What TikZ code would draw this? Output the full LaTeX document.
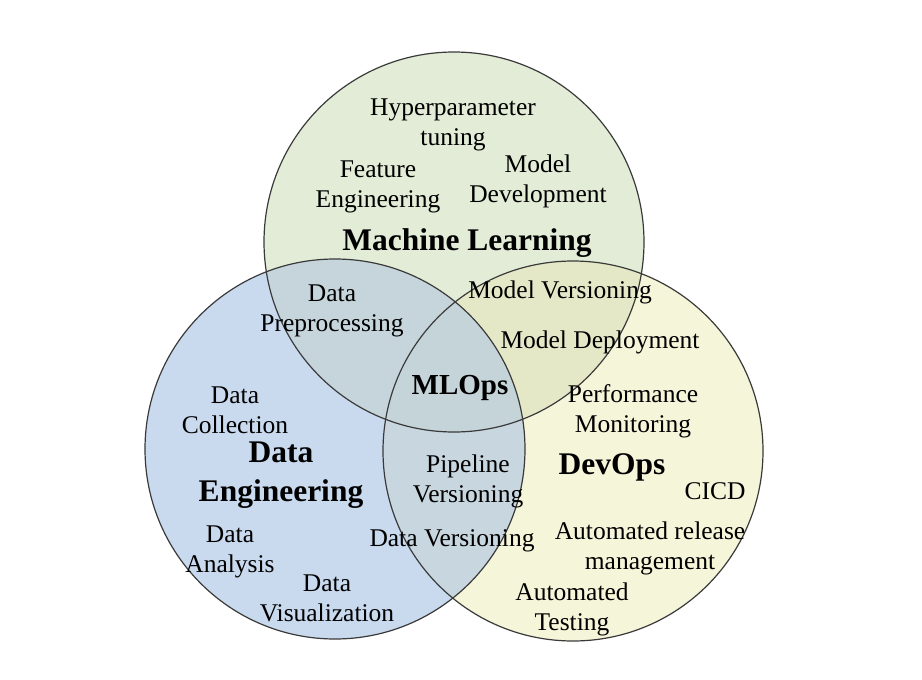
\documentclass[tikz,border=0pt]{standalone}
\usepackage{fontspec}
\setmainfont{Liberation Serif}
\definecolor{mlc}{HTML}{E2ECD6}
\definecolor{dec}{HTML}{C9D9EE}
\definecolor{doc}{HTML}{F5F5DA}
\definecolor{mldec}{HTML}{C6D5DB}
\definecolor{mldoc}{HTML}{E4E8C6}
\definecolor{dedoc}{HTML}{C7D6DF}
\definecolor{allc}{HTML}{C4D4D9}
\definecolor{edge}{HTML}{3A3A3A}
\begin{document}
\begin{tikzpicture}[x=1pt,y=-1pt,
  lbl/.style={inner sep=0pt,align=center,font=\fontsize{25.5}{30}\selectfont},
  big/.style={inner sep=0pt,align=center,font=\fontsize{31.5}{39}\selectfont\bfseries},
  ring/.style={draw=edge,line width=1.2pt}]
\useasboundingbox (0,0) rectangle (922,680);
\fill[white] (0,0) rectangle (922,680);
\coordinate (cml) at (454,242);
\coordinate (cde) at (335,449);
\coordinate (cdo) at (573,451);
\def\R{190}
\fill[mlc] (cml) circle (\R);
\fill[dec] (cde) circle (\R);
\fill[doc] (cdo) circle (\R);
\begin{scope}
  \clip (cml) circle (\R);
  \fill[mldec] (cde) circle (\R);
  \fill[mldoc] (cdo) circle (\R);
\end{scope}
\begin{scope}
  \clip (cde) circle (\R);
  \fill[dedoc] (cdo) circle (\R);
  \clip (cdo) circle (\R);
  \fill[allc] (cml) circle (\R);
\end{scope}
\draw[ring] (cml) circle (\R);
\draw[ring] (cde) circle (\R);
\draw[ring] (cdo) circle (\R);
% Machine Learning
\node[lbl] (hyp) at (453,125) {Hyperparameter\\tuning};
\node[lbl] (fe) at (378,187) {Feature\\Engineering};
\node[lbl] (md) at (538,181) {Model\\Development};
\node[big] (ml) at (467,243) {Machine Learning};
% Data Engineering
\node[lbl] (dp) at (332,311) {Data\\Preprocessing};
\node[big,font=\fontsize{29}{36}\selectfont\bfseries] (mlops) at (460,388) {MLOps};
\node[lbl] (dc) at (235,410) {Data\\Collection};
\node[big] (de) at (281,475) {Data\\Engineering};
\node[lbl] (pv) at (468,481) {Pipeline\\Versioning};
\node[lbl] (dv) at (452,541) {Data Versioning};
\node[lbl] (da) at (230,552) {Data\\Analysis};
\node[lbl] (dvis) at (327,598) {Data\\Visualization};
% DevOps
\node[lbl] (mv) at (560,292) {Model Versioning};
\node[lbl] (mdep) at (600,342) {Model Deployment};
\node[lbl] (pm) at (633,411) {Performance\\Monitoring};
\node[big] (devops) at (612,467) {DevOps};
\node[lbl] (cicd) at (715,491) {CICD};
\node[lbl] (arm) at (650,548) {Automated release\\management};
\node[lbl] (at) at (572,609) {Automated\\Testing};
\end{tikzpicture}
\end{document}
